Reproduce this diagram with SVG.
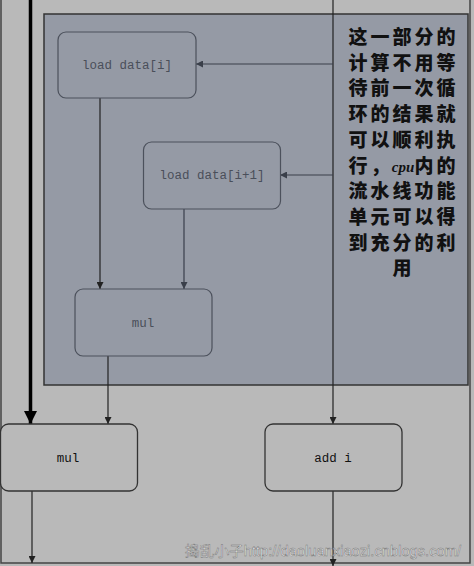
<svg xmlns="http://www.w3.org/2000/svg" width="474" height="566" viewBox="0 0 474 566">
<defs>
<style>
.box{fill:#b9b9b9;stroke:#333;stroke-width:1.3}
.ibox{fill:#959aa5;stroke:#4c515c;stroke-width:1.2}
.lbl{font-family:"Liberation Mono",monospace;font-size:12.5px;text-anchor:middle;fill:#111}
.ilbl{font-family:"Liberation Mono",monospace;font-size:12.5px;text-anchor:middle;fill:#4a4f5a}
.ln{stroke:#222;stroke-width:1.2;fill:none}
.iln{stroke:#3a3f4a;stroke-width:1.2;fill:none}
.cn{font-family:"Noto Sans CJK SC","Noto Sans CJK JP",sans-serif;font-size:19px;font-weight:900;fill:#111;text-anchor:middle}
</style>
<marker id="a" viewBox="0 0 10 10" refX="10" refY="5" markerWidth="7" markerHeight="7" markerUnits="userSpaceOnUse" orient="auto"><path d="M0,0L10,5L0,10z" fill="#222"/></marker>
<marker id="ai" viewBox="0 0 10 10" refX="10" refY="5" markerWidth="7" markerHeight="7" markerUnits="userSpaceOnUse" orient="auto"><path d="M0,0L10,5L0,10z" fill="#3a3f4a"/></marker>
<marker id="big" viewBox="0 0 10 10" refX="10" refY="5" markerWidth="13" markerHeight="13" markerUnits="userSpaceOnUse" orient="auto"><path d="M0,0L10,5L0,10z" fill="#000"/></marker>
</defs>
<rect x="0" y="0" width="474" height="566" fill="#b9b9b9"/>
<rect x="1" y="-2" width="469" height="565" fill="none" stroke="#444" stroke-width="1.5"/>
<g id="region">
<rect x="44" y="14" width="424" height="371" fill="#959aa5" stroke="#333" stroke-width="1.5"/>
</g>
<g id="connectors">
<line x1="30.5" y1="0" x2="30.5" y2="424" stroke="#000" stroke-width="3.5" marker-end="url(#big)"/>
<line class="ln" x1="333" y1="0" x2="333" y2="424" marker-end="url(#a)"/>
<line class="iln" x1="333" y1="64" x2="196" y2="64" marker-end="url(#ai)"/>
<line class="iln" x1="333" y1="175" x2="280" y2="175" marker-end="url(#ai)"/>
<line class="ln" x1="100" y1="98" x2="100" y2="289" marker-end="url(#a)"/>
<line class="iln" x1="184" y1="209" x2="184" y2="289" marker-end="url(#ai)"/>
<line class="ln" x1="108" y1="356" x2="108" y2="424" marker-end="url(#a)"/>
<line class="ln" x1="32" y1="491" x2="32" y2="563" marker-end="url(#a)"/>
<line class="ln" x1="333" y1="491" x2="333" y2="566" marker-end="url(#a)"/>
</g>
<g id="load_i">
<rect class="ibox" x="58" y="32" width="138" height="66" rx="8"/>
<text class="ilbl" x="127" y="69">load data[i]</text>
</g>
<g id="load_i1">
<rect class="ibox" x="143.5" y="142" width="137" height="67" rx="8"/>
<text class="ilbl" x="212" y="179">load data[i+1]</text>
</g>
<g id="mul_inner">
<rect class="ibox" x="75" y="289" width="137" height="67" rx="8"/>
<text class="ilbl" x="143" y="327">mul</text>
</g>
<g id="mul">
<rect class="box" x="0.5" y="424" width="137" height="67" rx="8"/>
<text class="lbl" x="68" y="462">mul</text>
</g>
<g id="add_i">
<rect class="box" x="265" y="424" width="137" height="67" rx="8"/>
<text class="lbl" x="333" y="462">add i</text>
</g>
<g id="note">
<text class="cn" x="358 380 402 424 446" y="44">这一部分的</text>
<text class="cn" x="358 380 402 424 446" y="70">计算不用等</text>
<text class="cn" x="358 380 402 424 446" y="95">待前一次循</text>
<text class="cn" x="358 380 402 424 446" y="121">环的结果就</text>
<text class="cn" x="358 380 402 424 446" y="147">可以顺利执</text>
<text class="cn" x="358 380" y="173">行，</text>
<text x="403" y="172" font-family="Liberation Serif,serif" font-style="italic" font-weight="bold" font-size="15" text-anchor="middle" fill="#111">cpu</text>
<text class="cn" x="424 446" y="173">内的</text>
<text class="cn" x="358 380 402 424 446" y="198">流水线功能</text>
<text class="cn" x="358 380 402 424 446" y="224">单元可以得</text>
<text class="cn" x="358 380 402 424 446" y="250">到充分的利</text>
<text class="cn" x="402" y="275">用</text>
</g>
<text x="185" y="556" textLength="276" lengthAdjust="spacingAndGlyphs" font-family="Liberation Sans,'Noto Sans CJK SC',sans-serif" font-size="14" fill="#f4f4f4" stroke="#777" stroke-width="0.5">捣乱小子http://daoluanxiaozi.cnblogs.com/</text>
</svg>
